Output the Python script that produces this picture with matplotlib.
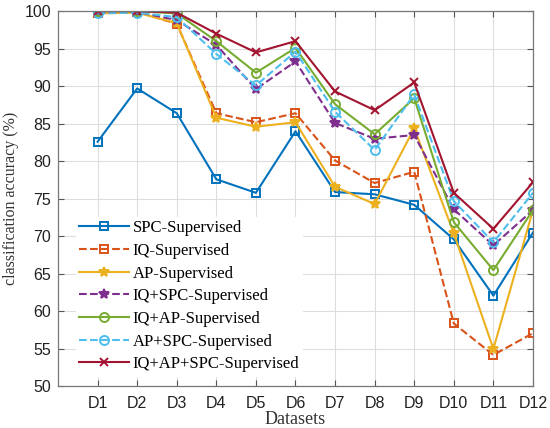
import numpy as np
import matplotlib
matplotlib.use('Agg')
import matplotlib.pyplot as plt

datasets = ['D1', 'D2', 'D3', 'D4', 'D5', 'D6', 'D7', 'D8', 'D9', 'D10', 'D11', 'D12']

spc = [82.6, 89.7, 86.4, 77.6, 75.8, 84.0, 75.9, 75.6, 74.2, 69.6, 62.1, 70.5]
iq = [99.8, 99.9, 98.3, 86.4, 85.2, 86.4, 80.1, 77.1, 78.6, 58.4, 54.2, 57.1]
ap = [99.7, 99.8, 98.4, 85.8, 84.6, 85.2, 76.6, 74.3, 84.4, 70.4, 55.0, 73.5]
iq_spc = [99.8, 99.9, 98.8, 95.5, 89.6, 93.3, 85.1, 83.0, 83.5, 73.6, 68.8, 73.5]
iq_ap = [100.0, 100.0, 99.7, 96.0, 91.8, 95.1, 87.6, 83.6, 88.4, 71.9, 65.5, 73.5]
ap_spc = [99.7, 99.8, 99.2, 94.3, 90.1, 94.6, 86.6, 81.5, 88.9, 74.7, 69.2, 75.8]
iq_ap_spc = [100.0, 100.0, 99.8, 97.0, 94.5, 96.0, 89.3, 86.8, 90.5, 75.8, 71.0, 77.2]

series = [
    ('SPC-Supervised', spc, '#0072BD', '-', 's', 'none'),
    ('IQ-Supervised', iq, '#D95319', '--', 's', 'none'),
    ('AP-Supervised', ap, '#EDB120', '-', '*', '#EDB120'),
    ('IQ+SPC-Supervised', iq_spc, '#7E2F8E', '--', '*', '#7E2F8E'),
    ('IQ+AP-Supervised', iq_ap, '#77AC30', '-', 'o', 'none'),
    ('AP+SPC-Supervised', ap_spc, '#4DBEEE', '--', 'o', 'none'),
    ('IQ+AP+SPC-Supervised', iq_ap_spc, '#A2142F', '-', 'x', '#A2142F'),
]
msizes = {'s': 5.5, 'o': 6.5, '*': 7.5, 'x': 6}

fig = plt.figure(figsize=(5.5, 4.28), dpi=100)
ax = fig.add_axes([0.1055, 0.097, 0.8635, 0.877])

x = np.arange(1, len(datasets) + 1)
for name, vals, col, ls, mk, mfc in series:
    ax.plot(x, vals, color=col, linestyle=ls, marker=mk, markersize=msizes[mk],
            markerfacecolor=mfc, markeredgecolor=col, markeredgewidth=1.4,
            linewidth=1.5, label=name)

ax.set_xlim(0, 12)
ax.set_ylim(50, 100)
ax.set_xticks(x)
ax.set_xticklabels(datasets)
ax.set_yticks(np.arange(50, 101, 5))
ax.grid(True, color='#dddddd', linewidth=0.8)
ax.set_axisbelow(True)
ax.tick_params(direction='in', top=True, right=True, color='#555555',
               labelsize=11.5, labelcolor='#222222', length=4)
ax.tick_params(axis='x', pad=7)
ax.tick_params(axis='y', pad=5)
for lab in ax.get_xticklabels() + ax.get_yticklabels():
    lab.set_family('Liberation Sans')
for sp in ax.spines.values():
    sp.set_color('#777777')
    sp.set_linewidth(0.9)

ax.set_xlabel('Datasets', family='Liberation Serif', fontsize=13, labelpad=0,
              color='#333333')
ax.set_ylabel('classification accuracy (%)', family='Liberation Serif',
              fontsize=11.5, labelpad=4, color='#333333')

leg = ax.legend(loc='lower left', bbox_to_anchor=(0.02, 0.007),
                prop={'family': 'Liberation Serif', 'size': 12},
                frameon=True, facecolor='white', edgecolor='white',
                framealpha=1, handlelength=3.0, handletextpad=0.2,
                labelspacing=0.4, borderpad=0.2)

fig.savefig('out.png', dpi=100)
